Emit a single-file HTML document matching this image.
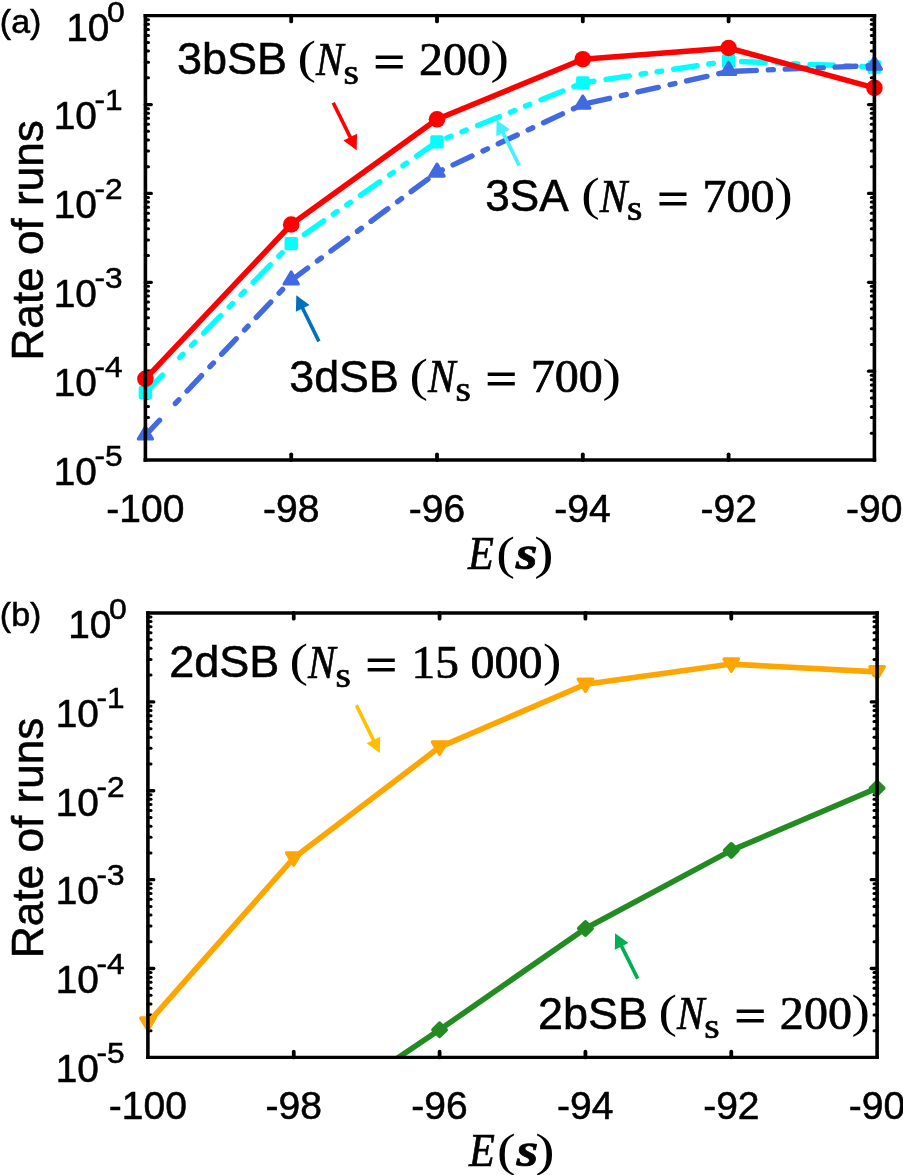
<!DOCTYPE html>
<html><head><meta charset="utf-8"><title>Figure</title>
<style>html,body{margin:0;padding:0;background:#fff}svg{display:block}text{fill:#000;white-space:pre}</style></head>
<body>
<svg width="903" height="1175" viewBox="0 0 903 1175">
<rect width="903" height="1175" fill="#fff"/>
<defs><clipPath id="cb"><rect x="147.9" y="613.0" width="729.2" height="445.6000000000001"/></clipPath></defs>
<g stroke="#000" stroke-linecap="round" fill="none"><line x1="291.20" y1="460.00" x2="291.20" y2="454.30" stroke-width="3.8"/><line x1="291.20" y1="15.70" x2="291.20" y2="21.40" stroke-width="3.8"/><line x1="437.00" y1="460.00" x2="437.00" y2="454.30" stroke-width="3.8"/><line x1="437.00" y1="15.70" x2="437.00" y2="21.40" stroke-width="3.8"/><line x1="582.80" y1="460.00" x2="582.80" y2="454.30" stroke-width="3.8"/><line x1="582.80" y1="15.70" x2="582.80" y2="21.40" stroke-width="3.8"/><line x1="728.60" y1="460.00" x2="728.60" y2="454.30" stroke-width="3.8"/><line x1="728.60" y1="15.70" x2="728.60" y2="21.40" stroke-width="3.8"/><line x1="145.40" y1="77.81" x2="148.50" y2="77.81" stroke-width="3.0"/><line x1="874.40" y1="77.81" x2="871.30" y2="77.81" stroke-width="3.0"/><line x1="145.40" y1="62.16" x2="148.50" y2="62.16" stroke-width="3.0"/><line x1="874.40" y1="62.16" x2="871.30" y2="62.16" stroke-width="3.0"/><line x1="145.40" y1="51.06" x2="148.50" y2="51.06" stroke-width="3.0"/><line x1="874.40" y1="51.06" x2="871.30" y2="51.06" stroke-width="3.0"/><line x1="145.40" y1="42.45" x2="148.50" y2="42.45" stroke-width="3.0"/><line x1="874.40" y1="42.45" x2="871.30" y2="42.45" stroke-width="3.0"/><line x1="145.40" y1="35.41" x2="148.50" y2="35.41" stroke-width="3.0"/><line x1="874.40" y1="35.41" x2="871.30" y2="35.41" stroke-width="3.0"/><line x1="145.40" y1="29.46" x2="148.50" y2="29.46" stroke-width="3.0"/><line x1="874.40" y1="29.46" x2="871.30" y2="29.46" stroke-width="3.0"/><line x1="145.40" y1="24.31" x2="148.50" y2="24.31" stroke-width="3.0"/><line x1="874.40" y1="24.31" x2="871.30" y2="24.31" stroke-width="3.0"/><line x1="145.40" y1="19.77" x2="148.50" y2="19.77" stroke-width="3.0"/><line x1="874.40" y1="19.77" x2="871.30" y2="19.77" stroke-width="3.0"/><line x1="145.40" y1="104.56" x2="151.25" y2="104.56" stroke-width="3.3"/><line x1="874.40" y1="104.56" x2="868.55" y2="104.56" stroke-width="3.3"/><line x1="145.40" y1="166.67" x2="148.50" y2="166.67" stroke-width="3.0"/><line x1="874.40" y1="166.67" x2="871.30" y2="166.67" stroke-width="3.0"/><line x1="145.40" y1="151.02" x2="148.50" y2="151.02" stroke-width="3.0"/><line x1="874.40" y1="151.02" x2="871.30" y2="151.02" stroke-width="3.0"/><line x1="145.40" y1="139.92" x2="148.50" y2="139.92" stroke-width="3.0"/><line x1="874.40" y1="139.92" x2="871.30" y2="139.92" stroke-width="3.0"/><line x1="145.40" y1="131.31" x2="148.50" y2="131.31" stroke-width="3.0"/><line x1="874.40" y1="131.31" x2="871.30" y2="131.31" stroke-width="3.0"/><line x1="145.40" y1="124.27" x2="148.50" y2="124.27" stroke-width="3.0"/><line x1="874.40" y1="124.27" x2="871.30" y2="124.27" stroke-width="3.0"/><line x1="145.40" y1="118.32" x2="148.50" y2="118.32" stroke-width="3.0"/><line x1="874.40" y1="118.32" x2="871.30" y2="118.32" stroke-width="3.0"/><line x1="145.40" y1="113.17" x2="148.50" y2="113.17" stroke-width="3.0"/><line x1="874.40" y1="113.17" x2="871.30" y2="113.17" stroke-width="3.0"/><line x1="145.40" y1="108.63" x2="148.50" y2="108.63" stroke-width="3.0"/><line x1="874.40" y1="108.63" x2="871.30" y2="108.63" stroke-width="3.0"/><line x1="145.40" y1="193.42" x2="151.25" y2="193.42" stroke-width="3.3"/><line x1="874.40" y1="193.42" x2="868.55" y2="193.42" stroke-width="3.3"/><line x1="145.40" y1="255.53" x2="148.50" y2="255.53" stroke-width="3.0"/><line x1="874.40" y1="255.53" x2="871.30" y2="255.53" stroke-width="3.0"/><line x1="145.40" y1="239.88" x2="148.50" y2="239.88" stroke-width="3.0"/><line x1="874.40" y1="239.88" x2="871.30" y2="239.88" stroke-width="3.0"/><line x1="145.40" y1="228.78" x2="148.50" y2="228.78" stroke-width="3.0"/><line x1="874.40" y1="228.78" x2="871.30" y2="228.78" stroke-width="3.0"/><line x1="145.40" y1="220.17" x2="148.50" y2="220.17" stroke-width="3.0"/><line x1="874.40" y1="220.17" x2="871.30" y2="220.17" stroke-width="3.0"/><line x1="145.40" y1="213.13" x2="148.50" y2="213.13" stroke-width="3.0"/><line x1="874.40" y1="213.13" x2="871.30" y2="213.13" stroke-width="3.0"/><line x1="145.40" y1="207.18" x2="148.50" y2="207.18" stroke-width="3.0"/><line x1="874.40" y1="207.18" x2="871.30" y2="207.18" stroke-width="3.0"/><line x1="145.40" y1="202.03" x2="148.50" y2="202.03" stroke-width="3.0"/><line x1="874.40" y1="202.03" x2="871.30" y2="202.03" stroke-width="3.0"/><line x1="145.40" y1="197.49" x2="148.50" y2="197.49" stroke-width="3.0"/><line x1="874.40" y1="197.49" x2="871.30" y2="197.49" stroke-width="3.0"/><line x1="145.40" y1="282.28" x2="151.25" y2="282.28" stroke-width="3.3"/><line x1="874.40" y1="282.28" x2="868.55" y2="282.28" stroke-width="3.3"/><line x1="145.40" y1="344.39" x2="148.50" y2="344.39" stroke-width="3.0"/><line x1="874.40" y1="344.39" x2="871.30" y2="344.39" stroke-width="3.0"/><line x1="145.40" y1="328.74" x2="148.50" y2="328.74" stroke-width="3.0"/><line x1="874.40" y1="328.74" x2="871.30" y2="328.74" stroke-width="3.0"/><line x1="145.40" y1="317.64" x2="148.50" y2="317.64" stroke-width="3.0"/><line x1="874.40" y1="317.64" x2="871.30" y2="317.64" stroke-width="3.0"/><line x1="145.40" y1="309.03" x2="148.50" y2="309.03" stroke-width="3.0"/><line x1="874.40" y1="309.03" x2="871.30" y2="309.03" stroke-width="3.0"/><line x1="145.40" y1="301.99" x2="148.50" y2="301.99" stroke-width="3.0"/><line x1="874.40" y1="301.99" x2="871.30" y2="301.99" stroke-width="3.0"/><line x1="145.40" y1="296.04" x2="148.50" y2="296.04" stroke-width="3.0"/><line x1="874.40" y1="296.04" x2="871.30" y2="296.04" stroke-width="3.0"/><line x1="145.40" y1="290.89" x2="148.50" y2="290.89" stroke-width="3.0"/><line x1="874.40" y1="290.89" x2="871.30" y2="290.89" stroke-width="3.0"/><line x1="145.40" y1="286.35" x2="148.50" y2="286.35" stroke-width="3.0"/><line x1="874.40" y1="286.35" x2="871.30" y2="286.35" stroke-width="3.0"/><line x1="145.40" y1="371.14" x2="151.25" y2="371.14" stroke-width="3.3"/><line x1="874.40" y1="371.14" x2="868.55" y2="371.14" stroke-width="3.3"/><line x1="145.40" y1="433.25" x2="148.50" y2="433.25" stroke-width="3.0"/><line x1="874.40" y1="433.25" x2="871.30" y2="433.25" stroke-width="3.0"/><line x1="145.40" y1="417.60" x2="148.50" y2="417.60" stroke-width="3.0"/><line x1="874.40" y1="417.60" x2="871.30" y2="417.60" stroke-width="3.0"/><line x1="145.40" y1="406.50" x2="148.50" y2="406.50" stroke-width="3.0"/><line x1="874.40" y1="406.50" x2="871.30" y2="406.50" stroke-width="3.0"/><line x1="145.40" y1="397.89" x2="148.50" y2="397.89" stroke-width="3.0"/><line x1="874.40" y1="397.89" x2="871.30" y2="397.89" stroke-width="3.0"/><line x1="145.40" y1="390.85" x2="148.50" y2="390.85" stroke-width="3.0"/><line x1="874.40" y1="390.85" x2="871.30" y2="390.85" stroke-width="3.0"/><line x1="145.40" y1="384.90" x2="148.50" y2="384.90" stroke-width="3.0"/><line x1="874.40" y1="384.90" x2="871.30" y2="384.90" stroke-width="3.0"/><line x1="145.40" y1="379.75" x2="148.50" y2="379.75" stroke-width="3.0"/><line x1="874.40" y1="379.75" x2="871.30" y2="379.75" stroke-width="3.0"/><line x1="145.40" y1="375.21" x2="148.50" y2="375.21" stroke-width="3.0"/><line x1="874.40" y1="375.21" x2="871.30" y2="375.21" stroke-width="3.0"/></g>
<polyline points="145.40,392.60 291.20,243.60 437.00,141.90 582.80,82.90 728.60,61.00 874.40,67.00" fill="none" stroke="#00FFFF" stroke-width="5.4" stroke-linecap="round" stroke-linejoin="round" stroke-dasharray="24.43 24.53 4.71 12.32 4.71 12.52 24.43 12.21 4.76 12.11 4.76 12.63 24.43 12.21 4.76 12.11 4.63 12.2 23.6 11.8 4.6 11.7 4.6 12.2 23.6 11.8 4.6 11.7 4.6 12.2 23.6 11.8 4.6 11.7 4.6 12.2 23.6 11.8 4.6 11.7 4.6 12.2 23.6 11.8 4.6 11.7 4.6 12.2 23.6 11.8 4.6 11.7 4.6 12.2 23.6 11.8 4.6 11.7 4.6 12.2 23.6 11.8 4.6 11.7 4.6 12.2 23.6 11.8 4.6 11.7 4.6 12.2 23.6 11.8 4.6 11.7" stroke-dashoffset="0"/>
<rect x="140.50" y="387.70" width="9.80" height="9.80" fill="#00FFFF" stroke="#00FFFF" stroke-width="3.6" stroke-linejoin="round"/>
<rect x="286.30" y="238.70" width="9.80" height="9.80" fill="#00FFFF" stroke="#00FFFF" stroke-width="3.6" stroke-linejoin="round"/>
<rect x="432.10" y="137.00" width="9.80" height="9.80" fill="#00FFFF" stroke="#00FFFF" stroke-width="3.6" stroke-linejoin="round"/>
<rect x="577.90" y="78.00" width="9.80" height="9.80" fill="#00FFFF" stroke="#00FFFF" stroke-width="3.6" stroke-linejoin="round"/>
<rect x="723.70" y="56.10" width="9.80" height="9.80" fill="#00FFFF" stroke="#00FFFF" stroke-width="3.6" stroke-linejoin="round"/>
<rect x="869.50" y="62.10" width="9.80" height="9.80" fill="#00FFFF" stroke="#00FFFF" stroke-width="3.6" stroke-linejoin="round"/>
<polyline points="145.40,435.30 291.20,280.30 437.00,172.40 582.80,104.40 728.60,71.50 874.40,65.50" fill="none" stroke="#4169E1" stroke-width="5.4" stroke-linecap="round" stroke-linejoin="round" stroke-dasharray="20.64 23.12 5.06 11.99 21.15 12.25 5.06 12.04 21.15 12.25 5.06 12.04 21.15 12.25 5.06 12.04 20.91 12.1 5.0 11.9 20.9 12.1 5.0 11.9 20.9 12.1 5.0 11.9 20.9 12.1 5.0 11.9 20.9 12.1 5.0 11.9 20.9 12.1 5.0 11.9 20.9 12.1 5.0 11.9 20.9 12.1 5.0 11.9 20.9 12.1 5.0 11.9 20.9 12.1 5.0 11.9 20.9 12.1 5.0 11.9 20.9 12.1 5.0 11.9 20.9 12.1 5.0 11.9 20.9 12.1 5.0 11.9" stroke-dashoffset="0"/>
<polygon points="145.40,427.05 152.50,438.95 138.30,438.95" fill="#4169E1" stroke="#4169E1" stroke-width="3.2" stroke-linejoin="round"/>
<polygon points="291.20,272.05 298.30,283.95 284.10,283.95" fill="#4169E1" stroke="#4169E1" stroke-width="3.2" stroke-linejoin="round"/>
<polygon points="437.00,164.15 444.10,176.05 429.90,176.05" fill="#4169E1" stroke="#4169E1" stroke-width="3.2" stroke-linejoin="round"/>
<polygon points="582.80,96.15 589.90,108.05 575.70,108.05" fill="#4169E1" stroke="#4169E1" stroke-width="3.2" stroke-linejoin="round"/>
<polygon points="728.60,62.55 735.70,74.45 721.50,74.45" fill="#4169E1" stroke="#4169E1" stroke-width="3.2" stroke-linejoin="round"/>
<polygon points="874.40,57.25 881.50,69.15 867.30,69.15" fill="#4169E1" stroke="#4169E1" stroke-width="3.2" stroke-linejoin="round"/>
<polyline points="145.40,378.80 291.20,224.50 437.00,119.30 582.80,59.20 728.60,48.00 874.40,87.90" fill="none" stroke="#FF0000" stroke-width="5.5" stroke-linecap="round" stroke-linejoin="round"/>
<circle cx="145.40" cy="378.80" r="8.3" fill="#FF0000"/>
<circle cx="291.20" cy="224.50" r="8.3" fill="#FF0000"/>
<circle cx="437.00" cy="119.30" r="8.3" fill="#FF0000"/>
<circle cx="582.80" cy="59.20" r="8.3" fill="#FF0000"/>
<circle cx="728.60" cy="48.00" r="8.3" fill="#FF0000"/>
<circle cx="874.40" cy="87.90" r="8.3" fill="#FF0000"/>
<g stroke="#000" fill="none" stroke-linecap="butt"><line x1="143.60" y1="15.70" x2="876.20" y2="15.70" stroke-width="3.3"/><line x1="143.60" y1="460.00" x2="876.20" y2="460.00" stroke-width="3.3"/><line x1="145.40" y1="14.05" x2="145.40" y2="461.65" stroke-width="3.6"/><line x1="874.40" y1="14.05" x2="874.40" y2="461.65" stroke-width="3.6"/></g>
<line x1="333.20" y1="102.70" x2="350.68" y2="138.11" stroke="#FF0000" stroke-width="3.6"/>
<polygon points="356.70,150.30 343.42,140.57 357.05,133.84" fill="#FF0000"/>
<line x1="519.20" y1="165.50" x2="502.64" y2="132.09" stroke="#40F2FF" stroke-width="3.6"/>
<polygon points="496.60,119.90 509.89,129.61 496.27,136.36" fill="#40F2FF"/>
<line x1="318.90" y1="341.40" x2="302.28" y2="307.42" stroke="#0072BD" stroke-width="3.6"/>
<polygon points="296.30,295.20 309.54,304.98 295.89,311.65" fill="#0072BD"/>
<text transform="translate(66.23,40.50) scale(1.0000,1)" style="font-family:'Liberation Sans', Arial, Helvetica, sans-serif;font-size:38.80px;font-style:normal;font-weight:normal" stroke="#000" stroke-width="0.55">10</text>
<text transform="translate(106.92,21.50) scale(1.0500,1)" style="font-family:'Liberation Sans', Arial, Helvetica, sans-serif;font-size:30.40px;font-style:normal;font-weight:normal" stroke="#000" stroke-width="0.55">0</text>
<text transform="translate(53.63,129.36) scale(1.0000,1)" style="font-family:'Liberation Sans', Arial, Helvetica, sans-serif;font-size:38.80px;font-style:normal;font-weight:normal" stroke="#000" stroke-width="0.55">10</text>
<text transform="translate(94.43,110.36) scale(1.0400,1)" style="font-family:'Liberation Sans', Arial, Helvetica, sans-serif;font-size:30.40px;font-style:normal;font-weight:normal" stroke="#000" stroke-width="0.55">-1</text>
<text transform="translate(53.63,218.22) scale(1.0000,1)" style="font-family:'Liberation Sans', Arial, Helvetica, sans-serif;font-size:38.80px;font-style:normal;font-weight:normal" stroke="#000" stroke-width="0.55">10</text>
<text transform="translate(94.43,199.22) scale(1.0400,1)" style="font-family:'Liberation Sans', Arial, Helvetica, sans-serif;font-size:30.40px;font-style:normal;font-weight:normal" stroke="#000" stroke-width="0.55">-2</text>
<text transform="translate(53.63,307.08) scale(1.0000,1)" style="font-family:'Liberation Sans', Arial, Helvetica, sans-serif;font-size:38.80px;font-style:normal;font-weight:normal" stroke="#000" stroke-width="0.55">10</text>
<text transform="translate(94.43,288.08) scale(1.0400,1)" style="font-family:'Liberation Sans', Arial, Helvetica, sans-serif;font-size:30.40px;font-style:normal;font-weight:normal" stroke="#000" stroke-width="0.55">-3</text>
<text transform="translate(53.63,395.94) scale(1.0000,1)" style="font-family:'Liberation Sans', Arial, Helvetica, sans-serif;font-size:38.80px;font-style:normal;font-weight:normal" stroke="#000" stroke-width="0.55">10</text>
<text transform="translate(94.43,376.94) scale(1.0400,1)" style="font-family:'Liberation Sans', Arial, Helvetica, sans-serif;font-size:30.40px;font-style:normal;font-weight:normal" stroke="#000" stroke-width="0.55">-4</text>
<text transform="translate(53.63,484.80) scale(1.0000,1)" style="font-family:'Liberation Sans', Arial, Helvetica, sans-serif;font-size:38.80px;font-style:normal;font-weight:normal" stroke="#000" stroke-width="0.55">10</text>
<text transform="translate(94.43,465.80) scale(1.0400,1)" style="font-family:'Liberation Sans', Arial, Helvetica, sans-serif;font-size:30.40px;font-style:normal;font-weight:normal" stroke="#000" stroke-width="0.55">-5</text>
<text transform="translate(106.27,521.80) scale(1.0000,1)" style="font-family:'Liberation Sans', Arial, Helvetica, sans-serif;font-size:39.00px;font-style:normal;font-weight:normal" stroke="#000" stroke-width="0.55">-100</text>
<text transform="translate(262.99,521.80) scale(1.0000,1)" style="font-family:'Liberation Sans', Arial, Helvetica, sans-serif;font-size:39.00px;font-style:normal;font-weight:normal" stroke="#000" stroke-width="0.55">-98</text>
<text transform="translate(408.79,521.80) scale(1.0000,1)" style="font-family:'Liberation Sans', Arial, Helvetica, sans-serif;font-size:39.00px;font-style:normal;font-weight:normal" stroke="#000" stroke-width="0.55">-96</text>
<text transform="translate(554.33,521.80) scale(1.0000,1)" style="font-family:'Liberation Sans', Arial, Helvetica, sans-serif;font-size:39.00px;font-style:normal;font-weight:normal" stroke="#000" stroke-width="0.55">-94</text>
<text transform="translate(700.52,521.80) scale(1.0000,1)" style="font-family:'Liberation Sans', Arial, Helvetica, sans-serif;font-size:39.00px;font-style:normal;font-weight:normal" stroke="#000" stroke-width="0.55">-92</text>
<text transform="translate(846.12,521.80) scale(1.0000,1)" style="font-family:'Liberation Sans', Arial, Helvetica, sans-serif;font-size:39.00px;font-style:normal;font-weight:normal" stroke="#000" stroke-width="0.55">-90</text>
<text transform="translate(-0.15,33.03) scale(1.0209,1)" style="font-family:'Liberation Sans', Arial, Helvetica, sans-serif;font-size:33.23px;font-style:normal;font-weight:normal" stroke="#000" stroke-width="0.55">(a)</text>
<text transform="translate(42.90,360.48) rotate(-90) scale(0.9804,1)" style="font-family:'Liberation Sans', Arial, Helvetica, sans-serif;font-size:45.0px" stroke="#000" stroke-width="0.55">Rate of runs</text>
<text transform="translate(468.12,568.60) scale(0.9297,1)" style="font-family:'Liberation Serif', 'Times New Roman', serif;font-size:45.46px;font-style:italic;font-weight:normal" stroke="#000" stroke-width="0.7">E</text>
<text transform="translate(496.27,568.69) scale(1.2083,1)" style="font-family:'Liberation Serif', 'Times New Roman', serif;font-size:46.43px;font-style:normal;font-weight:normal" >(</text>
<text transform="translate(515.67,568.60) scale(1.1326,1)" style="font-family:'Liberation Serif', 'Times New Roman', serif;font-size:49.57px;font-style:italic;font-weight:bold" stroke="#000" stroke-width="0.7">s</text>
<text transform="translate(534.36,568.69) scale(1.2502,1)" style="font-family:'Liberation Serif', 'Times New Roman', serif;font-size:46.43px;font-style:normal;font-weight:normal" >)</text>
<text transform="translate(176.90,74.20) scale(1.0090,1)" style="font-family:'Liberation Sans', Arial, Helvetica, sans-serif;font-size:44.60px;font-style:normal;font-weight:normal" stroke="#000" stroke-width="0.55">3bSB</text>
<text transform="translate(297.50,73.15) scale(1.2100,1)" style="font-family:'Liberation Serif', 'Times New Roman', serif;font-size:45.80px;font-style:normal;font-weight:normal" >(</text>
<text transform="translate(316.07,74.75) scale(0.9000,1)" style="font-family:'Liberation Serif', 'Times New Roman', serif;font-size:45.80px;font-style:italic;font-weight:normal" stroke="#000" stroke-width="0.7">N</text>
<text transform="translate(343.42,83.65) scale(1.1300,1)" style="font-family:'Liberation Serif', 'Times New Roman', serif;font-size:35.00px;font-style:normal;font-weight:normal" stroke="#000" stroke-width="0.7">s</text>
<text transform="translate(373.52,78.05) scale(1.1600,1)" style="font-family:'Liberation Serif', 'Times New Roman', serif;font-size:48.00px;font-style:normal;font-weight:normal" stroke="#000" stroke-width="1.0">=</text>
<text transform="translate(418.97,74.75) scale(1.0450,1)" style="font-family:'Liberation Serif', 'Times New Roman', serif;font-size:46.00px;font-style:normal;font-weight:normal" stroke="#000" stroke-width="0.7">200</text>
<text transform="translate(490.55,73.15) scale(1.2100,1)" style="font-family:'Liberation Serif', 'Times New Roman', serif;font-size:45.80px;font-style:normal;font-weight:normal" >)</text>
<text transform="translate(485.33,211.20) scale(0.9895,1)" style="font-family:'Liberation Sans', Arial, Helvetica, sans-serif;font-size:44.60px;font-style:normal;font-weight:normal" stroke="#000" stroke-width="0.55">3SA</text>
<text transform="translate(581.20,209.90) scale(1.2100,1)" style="font-family:'Liberation Serif', 'Times New Roman', serif;font-size:45.80px;font-style:normal;font-weight:normal" >(</text>
<text transform="translate(599.77,211.50) scale(0.9000,1)" style="font-family:'Liberation Serif', 'Times New Roman', serif;font-size:45.80px;font-style:italic;font-weight:normal" stroke="#000" stroke-width="0.7">N</text>
<text transform="translate(627.12,220.40) scale(1.1300,1)" style="font-family:'Liberation Serif', 'Times New Roman', serif;font-size:35.00px;font-style:normal;font-weight:normal" stroke="#000" stroke-width="0.7">s</text>
<text transform="translate(657.22,214.80) scale(1.1600,1)" style="font-family:'Liberation Serif', 'Times New Roman', serif;font-size:48.00px;font-style:normal;font-weight:normal" stroke="#000" stroke-width="1.0">=</text>
<text transform="translate(702.40,211.50) scale(1.0450,1)" style="font-family:'Liberation Serif', 'Times New Roman', serif;font-size:46.00px;font-style:normal;font-weight:normal" stroke="#000" stroke-width="0.7">700</text>
<text transform="translate(774.25,209.90) scale(1.2100,1)" style="font-family:'Liberation Serif', 'Times New Roman', serif;font-size:45.80px;font-style:normal;font-weight:normal" >)</text>
<text transform="translate(289.31,391.80) scale(1.0042,1)" style="font-family:'Liberation Sans', Arial, Helvetica, sans-serif;font-size:44.60px;font-style:normal;font-weight:normal" stroke="#000" stroke-width="0.55">3dSB</text>
<text transform="translate(409.50,390.50) scale(1.2100,1)" style="font-family:'Liberation Serif', 'Times New Roman', serif;font-size:45.80px;font-style:normal;font-weight:normal" >(</text>
<text transform="translate(428.07,392.10) scale(0.9000,1)" style="font-family:'Liberation Serif', 'Times New Roman', serif;font-size:45.80px;font-style:italic;font-weight:normal" stroke="#000" stroke-width="0.7">N</text>
<text transform="translate(455.42,401.00) scale(1.1300,1)" style="font-family:'Liberation Serif', 'Times New Roman', serif;font-size:35.00px;font-style:normal;font-weight:normal" stroke="#000" stroke-width="0.7">s</text>
<text transform="translate(485.52,395.40) scale(1.1600,1)" style="font-family:'Liberation Serif', 'Times New Roman', serif;font-size:48.00px;font-style:normal;font-weight:normal" stroke="#000" stroke-width="1.0">=</text>
<text transform="translate(530.70,392.10) scale(1.0450,1)" style="font-family:'Liberation Serif', 'Times New Roman', serif;font-size:46.00px;font-style:normal;font-weight:normal" stroke="#000" stroke-width="0.7">700</text>
<text transform="translate(602.55,390.50) scale(1.2100,1)" style="font-family:'Liberation Serif', 'Times New Roman', serif;font-size:45.80px;font-style:normal;font-weight:normal" >)</text>
<g stroke="#000" stroke-linecap="round" fill="none"><line x1="293.74" y1="1057.40" x2="293.74" y2="1051.70" stroke-width="3.8"/><line x1="293.74" y1="613.00" x2="293.74" y2="618.70" stroke-width="3.8"/><line x1="439.58" y1="1057.40" x2="439.58" y2="1051.70" stroke-width="3.8"/><line x1="439.58" y1="613.00" x2="439.58" y2="618.70" stroke-width="3.8"/><line x1="585.42" y1="1057.40" x2="585.42" y2="1051.70" stroke-width="3.8"/><line x1="585.42" y1="613.00" x2="585.42" y2="618.70" stroke-width="3.8"/><line x1="731.26" y1="1057.40" x2="731.26" y2="1051.70" stroke-width="3.8"/><line x1="731.26" y1="613.00" x2="731.26" y2="618.70" stroke-width="3.8"/><line x1="147.90" y1="675.12" x2="151.00" y2="675.12" stroke-width="3.0"/><line x1="877.10" y1="675.12" x2="874.00" y2="675.12" stroke-width="3.0"/><line x1="147.90" y1="659.47" x2="151.00" y2="659.47" stroke-width="3.0"/><line x1="877.10" y1="659.47" x2="874.00" y2="659.47" stroke-width="3.0"/><line x1="147.90" y1="648.37" x2="151.00" y2="648.37" stroke-width="3.0"/><line x1="877.10" y1="648.37" x2="874.00" y2="648.37" stroke-width="3.0"/><line x1="147.90" y1="639.76" x2="151.00" y2="639.76" stroke-width="3.0"/><line x1="877.10" y1="639.76" x2="874.00" y2="639.76" stroke-width="3.0"/><line x1="147.90" y1="632.72" x2="151.00" y2="632.72" stroke-width="3.0"/><line x1="877.10" y1="632.72" x2="874.00" y2="632.72" stroke-width="3.0"/><line x1="147.90" y1="626.77" x2="151.00" y2="626.77" stroke-width="3.0"/><line x1="877.10" y1="626.77" x2="874.00" y2="626.77" stroke-width="3.0"/><line x1="147.90" y1="621.61" x2="151.00" y2="621.61" stroke-width="3.0"/><line x1="877.10" y1="621.61" x2="874.00" y2="621.61" stroke-width="3.0"/><line x1="147.90" y1="617.07" x2="151.00" y2="617.07" stroke-width="3.0"/><line x1="877.10" y1="617.07" x2="874.00" y2="617.07" stroke-width="3.0"/><line x1="147.90" y1="701.88" x2="153.75" y2="701.88" stroke-width="3.3"/><line x1="877.10" y1="701.88" x2="871.25" y2="701.88" stroke-width="3.3"/><line x1="147.90" y1="764.00" x2="151.00" y2="764.00" stroke-width="3.0"/><line x1="877.10" y1="764.00" x2="874.00" y2="764.00" stroke-width="3.0"/><line x1="147.90" y1="748.35" x2="151.00" y2="748.35" stroke-width="3.0"/><line x1="877.10" y1="748.35" x2="874.00" y2="748.35" stroke-width="3.0"/><line x1="147.90" y1="737.25" x2="151.00" y2="737.25" stroke-width="3.0"/><line x1="877.10" y1="737.25" x2="874.00" y2="737.25" stroke-width="3.0"/><line x1="147.90" y1="728.64" x2="151.00" y2="728.64" stroke-width="3.0"/><line x1="877.10" y1="728.64" x2="874.00" y2="728.64" stroke-width="3.0"/><line x1="147.90" y1="721.60" x2="151.00" y2="721.60" stroke-width="3.0"/><line x1="877.10" y1="721.60" x2="874.00" y2="721.60" stroke-width="3.0"/><line x1="147.90" y1="715.65" x2="151.00" y2="715.65" stroke-width="3.0"/><line x1="877.10" y1="715.65" x2="874.00" y2="715.65" stroke-width="3.0"/><line x1="147.90" y1="710.49" x2="151.00" y2="710.49" stroke-width="3.0"/><line x1="877.10" y1="710.49" x2="874.00" y2="710.49" stroke-width="3.0"/><line x1="147.90" y1="705.95" x2="151.00" y2="705.95" stroke-width="3.0"/><line x1="877.10" y1="705.95" x2="874.00" y2="705.95" stroke-width="3.0"/><line x1="147.90" y1="790.76" x2="153.75" y2="790.76" stroke-width="3.3"/><line x1="877.10" y1="790.76" x2="871.25" y2="790.76" stroke-width="3.3"/><line x1="147.90" y1="852.88" x2="151.00" y2="852.88" stroke-width="3.0"/><line x1="877.10" y1="852.88" x2="874.00" y2="852.88" stroke-width="3.0"/><line x1="147.90" y1="837.23" x2="151.00" y2="837.23" stroke-width="3.0"/><line x1="877.10" y1="837.23" x2="874.00" y2="837.23" stroke-width="3.0"/><line x1="147.90" y1="826.13" x2="151.00" y2="826.13" stroke-width="3.0"/><line x1="877.10" y1="826.13" x2="874.00" y2="826.13" stroke-width="3.0"/><line x1="147.90" y1="817.52" x2="151.00" y2="817.52" stroke-width="3.0"/><line x1="877.10" y1="817.52" x2="874.00" y2="817.52" stroke-width="3.0"/><line x1="147.90" y1="810.48" x2="151.00" y2="810.48" stroke-width="3.0"/><line x1="877.10" y1="810.48" x2="874.00" y2="810.48" stroke-width="3.0"/><line x1="147.90" y1="804.53" x2="151.00" y2="804.53" stroke-width="3.0"/><line x1="877.10" y1="804.53" x2="874.00" y2="804.53" stroke-width="3.0"/><line x1="147.90" y1="799.37" x2="151.00" y2="799.37" stroke-width="3.0"/><line x1="877.10" y1="799.37" x2="874.00" y2="799.37" stroke-width="3.0"/><line x1="147.90" y1="794.83" x2="151.00" y2="794.83" stroke-width="3.0"/><line x1="877.10" y1="794.83" x2="874.00" y2="794.83" stroke-width="3.0"/><line x1="147.90" y1="879.64" x2="153.75" y2="879.64" stroke-width="3.3"/><line x1="877.10" y1="879.64" x2="871.25" y2="879.64" stroke-width="3.3"/><line x1="147.90" y1="941.76" x2="151.00" y2="941.76" stroke-width="3.0"/><line x1="877.10" y1="941.76" x2="874.00" y2="941.76" stroke-width="3.0"/><line x1="147.90" y1="926.11" x2="151.00" y2="926.11" stroke-width="3.0"/><line x1="877.10" y1="926.11" x2="874.00" y2="926.11" stroke-width="3.0"/><line x1="147.90" y1="915.01" x2="151.00" y2="915.01" stroke-width="3.0"/><line x1="877.10" y1="915.01" x2="874.00" y2="915.01" stroke-width="3.0"/><line x1="147.90" y1="906.40" x2="151.00" y2="906.40" stroke-width="3.0"/><line x1="877.10" y1="906.40" x2="874.00" y2="906.40" stroke-width="3.0"/><line x1="147.90" y1="899.36" x2="151.00" y2="899.36" stroke-width="3.0"/><line x1="877.10" y1="899.36" x2="874.00" y2="899.36" stroke-width="3.0"/><line x1="147.90" y1="893.41" x2="151.00" y2="893.41" stroke-width="3.0"/><line x1="877.10" y1="893.41" x2="874.00" y2="893.41" stroke-width="3.0"/><line x1="147.90" y1="888.25" x2="151.00" y2="888.25" stroke-width="3.0"/><line x1="877.10" y1="888.25" x2="874.00" y2="888.25" stroke-width="3.0"/><line x1="147.90" y1="883.71" x2="151.00" y2="883.71" stroke-width="3.0"/><line x1="877.10" y1="883.71" x2="874.00" y2="883.71" stroke-width="3.0"/><line x1="147.90" y1="968.52" x2="153.75" y2="968.52" stroke-width="3.3"/><line x1="877.10" y1="968.52" x2="871.25" y2="968.52" stroke-width="3.3"/><line x1="147.90" y1="1030.64" x2="151.00" y2="1030.64" stroke-width="3.0"/><line x1="877.10" y1="1030.64" x2="874.00" y2="1030.64" stroke-width="3.0"/><line x1="147.90" y1="1014.99" x2="151.00" y2="1014.99" stroke-width="3.0"/><line x1="877.10" y1="1014.99" x2="874.00" y2="1014.99" stroke-width="3.0"/><line x1="147.90" y1="1003.89" x2="151.00" y2="1003.89" stroke-width="3.0"/><line x1="877.10" y1="1003.89" x2="874.00" y2="1003.89" stroke-width="3.0"/><line x1="147.90" y1="995.28" x2="151.00" y2="995.28" stroke-width="3.0"/><line x1="877.10" y1="995.28" x2="874.00" y2="995.28" stroke-width="3.0"/><line x1="147.90" y1="988.24" x2="151.00" y2="988.24" stroke-width="3.0"/><line x1="877.10" y1="988.24" x2="874.00" y2="988.24" stroke-width="3.0"/><line x1="147.90" y1="982.29" x2="151.00" y2="982.29" stroke-width="3.0"/><line x1="877.10" y1="982.29" x2="874.00" y2="982.29" stroke-width="3.0"/><line x1="147.90" y1="977.13" x2="151.00" y2="977.13" stroke-width="3.0"/><line x1="877.10" y1="977.13" x2="874.00" y2="977.13" stroke-width="3.0"/><line x1="147.90" y1="972.59" x2="151.00" y2="972.59" stroke-width="3.0"/><line x1="877.10" y1="972.59" x2="874.00" y2="972.59" stroke-width="3.0"/></g>
<polyline points="147.90,1023.10 293.74,858.00 439.58,747.10 585.42,684.20 731.26,664.10 877.10,671.90" fill="none" stroke="#FFA500" stroke-width="5.6" stroke-linecap="round" stroke-linejoin="round"/>
<polygon points="147.90,1030.30 155.20,1017.90 140.60,1017.90" fill="#FFA500" stroke="#FFA500" stroke-width="3.2" stroke-linejoin="round"/>
<polygon points="293.74,865.20 301.04,852.80 286.44,852.80" fill="#FFA500" stroke="#FFA500" stroke-width="3.2" stroke-linejoin="round"/>
<polygon points="439.58,754.30 446.88,741.90 432.28,741.90" fill="#FFA500" stroke="#FFA500" stroke-width="3.2" stroke-linejoin="round"/>
<polygon points="585.42,691.40 592.72,679.00 578.12,679.00" fill="#FFA500" stroke="#FFA500" stroke-width="3.2" stroke-linejoin="round"/>
<polygon points="731.26,671.30 738.56,658.90 723.96,658.90" fill="#FFA500" stroke="#FFA500" stroke-width="3.2" stroke-linejoin="round"/>
<polygon points="877.10,679.10 884.40,666.70 869.80,666.70" fill="#FFA500" stroke="#FFA500" stroke-width="3.2" stroke-linejoin="round"/>
<polyline points="293.74,1128.00 439.58,1029.80 585.42,928.50 731.26,850.40 877.10,788.20" fill="none" stroke="#228B22" stroke-width="5.6" stroke-linecap="round" stroke-linejoin="round" clip-path="url(#cb)"/>
<polygon points="439.58,1023.40 446.03,1029.80 439.58,1036.20 433.13,1029.80" fill="#228B22" stroke="#228B22" stroke-width="4.0" stroke-linejoin="round"/>
<polygon points="585.42,922.10 591.87,928.50 585.42,934.90 578.97,928.50" fill="#228B22" stroke="#228B22" stroke-width="4.0" stroke-linejoin="round"/>
<polygon points="731.26,844.00 737.71,850.40 731.26,856.80 724.81,850.40" fill="#228B22" stroke="#228B22" stroke-width="4.0" stroke-linejoin="round"/>
<polygon points="877.10,781.80 883.55,788.20 877.10,794.60 870.65,788.20" fill="#228B22" stroke="#228B22" stroke-width="4.0" stroke-linejoin="round"/>
<g stroke="#000" fill="none" stroke-linecap="butt"><line x1="146.10" y1="613.00" x2="878.90" y2="613.00" stroke-width="3.3"/><line x1="146.10" y1="1057.40" x2="878.90" y2="1057.40" stroke-width="3.3"/><line x1="147.90" y1="611.35" x2="147.90" y2="1059.05" stroke-width="3.6"/><line x1="877.10" y1="611.35" x2="877.10" y2="1059.05" stroke-width="3.6"/></g>
<line x1="356.40" y1="705.30" x2="373.82" y2="740.89" stroke="#FFC000" stroke-width="3.6"/>
<polygon points="379.80,753.10 366.55,743.33 380.21,736.65" fill="#FFC000"/>
<line x1="637.70" y1="978.60" x2="621.16" y2="945.37" stroke="#00B050" stroke-width="3.6"/>
<polygon points="615.10,933.20 628.41,942.88 614.80,949.66" fill="#00B050"/>
<text transform="translate(68.23,637.80) scale(1.0000,1)" style="font-family:'Liberation Sans', Arial, Helvetica, sans-serif;font-size:38.80px;font-style:normal;font-weight:normal" stroke="#000" stroke-width="0.55">10</text>
<text transform="translate(108.92,618.80) scale(1.0500,1)" style="font-family:'Liberation Sans', Arial, Helvetica, sans-serif;font-size:30.40px;font-style:normal;font-weight:normal" stroke="#000" stroke-width="0.55">0</text>
<text transform="translate(55.63,726.68) scale(1.0000,1)" style="font-family:'Liberation Sans', Arial, Helvetica, sans-serif;font-size:38.80px;font-style:normal;font-weight:normal" stroke="#000" stroke-width="0.55">10</text>
<text transform="translate(96.43,707.68) scale(1.0400,1)" style="font-family:'Liberation Sans', Arial, Helvetica, sans-serif;font-size:30.40px;font-style:normal;font-weight:normal" stroke="#000" stroke-width="0.55">-1</text>
<text transform="translate(55.63,815.56) scale(1.0000,1)" style="font-family:'Liberation Sans', Arial, Helvetica, sans-serif;font-size:38.80px;font-style:normal;font-weight:normal" stroke="#000" stroke-width="0.55">10</text>
<text transform="translate(96.43,796.56) scale(1.0400,1)" style="font-family:'Liberation Sans', Arial, Helvetica, sans-serif;font-size:30.40px;font-style:normal;font-weight:normal" stroke="#000" stroke-width="0.55">-2</text>
<text transform="translate(55.63,904.44) scale(1.0000,1)" style="font-family:'Liberation Sans', Arial, Helvetica, sans-serif;font-size:38.80px;font-style:normal;font-weight:normal" stroke="#000" stroke-width="0.55">10</text>
<text transform="translate(96.43,885.44) scale(1.0400,1)" style="font-family:'Liberation Sans', Arial, Helvetica, sans-serif;font-size:30.40px;font-style:normal;font-weight:normal" stroke="#000" stroke-width="0.55">-3</text>
<text transform="translate(55.63,993.32) scale(1.0000,1)" style="font-family:'Liberation Sans', Arial, Helvetica, sans-serif;font-size:38.80px;font-style:normal;font-weight:normal" stroke="#000" stroke-width="0.55">10</text>
<text transform="translate(96.43,974.32) scale(1.0400,1)" style="font-family:'Liberation Sans', Arial, Helvetica, sans-serif;font-size:30.40px;font-style:normal;font-weight:normal" stroke="#000" stroke-width="0.55">-4</text>
<text transform="translate(55.63,1082.20) scale(1.0000,1)" style="font-family:'Liberation Sans', Arial, Helvetica, sans-serif;font-size:38.80px;font-style:normal;font-weight:normal" stroke="#000" stroke-width="0.55">10</text>
<text transform="translate(96.43,1063.20) scale(1.0400,1)" style="font-family:'Liberation Sans', Arial, Helvetica, sans-serif;font-size:30.40px;font-style:normal;font-weight:normal" stroke="#000" stroke-width="0.55">-5</text>
<text transform="translate(108.77,1118.70) scale(1.0000,1)" style="font-family:'Liberation Sans', Arial, Helvetica, sans-serif;font-size:39.00px;font-style:normal;font-weight:normal" stroke="#000" stroke-width="0.55">-100</text>
<text transform="translate(265.53,1118.70) scale(1.0000,1)" style="font-family:'Liberation Sans', Arial, Helvetica, sans-serif;font-size:39.00px;font-style:normal;font-weight:normal" stroke="#000" stroke-width="0.55">-98</text>
<text transform="translate(411.37,1118.70) scale(1.0000,1)" style="font-family:'Liberation Sans', Arial, Helvetica, sans-serif;font-size:39.00px;font-style:normal;font-weight:normal" stroke="#000" stroke-width="0.55">-96</text>
<text transform="translate(556.95,1118.70) scale(1.0000,1)" style="font-family:'Liberation Sans', Arial, Helvetica, sans-serif;font-size:39.00px;font-style:normal;font-weight:normal" stroke="#000" stroke-width="0.55">-94</text>
<text transform="translate(703.18,1118.70) scale(1.0000,1)" style="font-family:'Liberation Sans', Arial, Helvetica, sans-serif;font-size:39.00px;font-style:normal;font-weight:normal" stroke="#000" stroke-width="0.55">-92</text>
<text transform="translate(848.83,1118.70) scale(1.0000,1)" style="font-family:'Liberation Sans', Arial, Helvetica, sans-serif;font-size:39.00px;font-style:normal;font-weight:normal" stroke="#000" stroke-width="0.55">-90</text>
<text transform="translate(-0.15,625.84) scale(1.0079,1)" style="font-family:'Liberation Sans', Arial, Helvetica, sans-serif;font-size:33.66px;font-style:normal;font-weight:normal" stroke="#000" stroke-width="0.55">(b)</text>
<text transform="translate(42.90,957.98) rotate(-90) scale(0.9804,1)" style="font-family:'Liberation Sans', Arial, Helvetica, sans-serif;font-size:45.0px" stroke="#000" stroke-width="0.55">Rate of runs</text>
<text transform="translate(468.92,1165.50) scale(0.9297,1)" style="font-family:'Liberation Serif', 'Times New Roman', serif;font-size:45.46px;font-style:italic;font-weight:normal" stroke="#000" stroke-width="0.7">E</text>
<text transform="translate(497.07,1165.59) scale(1.2083,1)" style="font-family:'Liberation Serif', 'Times New Roman', serif;font-size:46.43px;font-style:normal;font-weight:normal" >(</text>
<text transform="translate(516.47,1165.50) scale(1.1326,1)" style="font-family:'Liberation Serif', 'Times New Roman', serif;font-size:49.57px;font-style:italic;font-weight:bold" stroke="#000" stroke-width="0.7">s</text>
<text transform="translate(535.16,1165.59) scale(1.2502,1)" style="font-family:'Liberation Serif', 'Times New Roman', serif;font-size:46.43px;font-style:normal;font-weight:normal" >)</text>
<text transform="translate(169.15,677.35) scale(1.0094,1)" style="font-family:'Liberation Sans', Arial, Helvetica, sans-serif;font-size:44.60px;font-style:normal;font-weight:normal" stroke="#000" stroke-width="0.55">2dSB</text>
<text transform="translate(289.50,676.05) scale(1.2100,1)" style="font-family:'Liberation Serif', 'Times New Roman', serif;font-size:45.80px;font-style:normal;font-weight:normal" >(</text>
<text transform="translate(308.07,677.65) scale(0.9000,1)" style="font-family:'Liberation Serif', 'Times New Roman', serif;font-size:45.80px;font-style:italic;font-weight:normal" stroke="#000" stroke-width="0.7">N</text>
<text transform="translate(335.42,686.55) scale(1.1300,1)" style="font-family:'Liberation Serif', 'Times New Roman', serif;font-size:35.00px;font-style:normal;font-weight:normal" stroke="#000" stroke-width="0.7">s</text>
<text transform="translate(365.52,680.95) scale(1.1600,1)" style="font-family:'Liberation Serif', 'Times New Roman', serif;font-size:48.00px;font-style:normal;font-weight:normal" stroke="#000" stroke-width="1.0">=</text>
<text transform="translate(411.49,677.65) scale(1.0300,1)" style="font-family:'Liberation Serif', 'Times New Roman', serif;font-size:46.00px;font-style:normal;font-weight:normal" stroke="#000" stroke-width="0.7">15</text>
<text transform="translate(470.44,677.65) scale(1.0450,1)" style="font-family:'Liberation Serif', 'Times New Roman', serif;font-size:46.00px;font-style:normal;font-weight:normal" stroke="#000" stroke-width="0.7">000</text>
<text transform="translate(542.95,676.05) scale(1.2100,1)" style="font-family:'Liberation Serif', 'Times New Roman', serif;font-size:45.80px;font-style:normal;font-weight:normal" >)</text>
<text transform="translate(538.05,1028.70) scale(1.0085,1)" style="font-family:'Liberation Sans', Arial, Helvetica, sans-serif;font-size:44.60px;font-style:normal;font-weight:normal" stroke="#000" stroke-width="0.55">2bSB</text>
<text transform="translate(658.40,1027.40) scale(1.2100,1)" style="font-family:'Liberation Serif', 'Times New Roman', serif;font-size:45.80px;font-style:normal;font-weight:normal" >(</text>
<text transform="translate(676.97,1029.00) scale(0.9000,1)" style="font-family:'Liberation Serif', 'Times New Roman', serif;font-size:45.80px;font-style:italic;font-weight:normal" stroke="#000" stroke-width="0.7">N</text>
<text transform="translate(704.32,1037.90) scale(1.1300,1)" style="font-family:'Liberation Serif', 'Times New Roman', serif;font-size:35.00px;font-style:normal;font-weight:normal" stroke="#000" stroke-width="0.7">s</text>
<text transform="translate(734.42,1032.30) scale(1.1600,1)" style="font-family:'Liberation Serif', 'Times New Roman', serif;font-size:48.00px;font-style:normal;font-weight:normal" stroke="#000" stroke-width="1.0">=</text>
<text transform="translate(779.87,1029.00) scale(1.0450,1)" style="font-family:'Liberation Serif', 'Times New Roman', serif;font-size:46.00px;font-style:normal;font-weight:normal" stroke="#000" stroke-width="0.7">200</text>
<text transform="translate(851.45,1027.40) scale(1.2100,1)" style="font-family:'Liberation Serif', 'Times New Roman', serif;font-size:45.80px;font-style:normal;font-weight:normal" >)</text>
</svg>
</body></html>
